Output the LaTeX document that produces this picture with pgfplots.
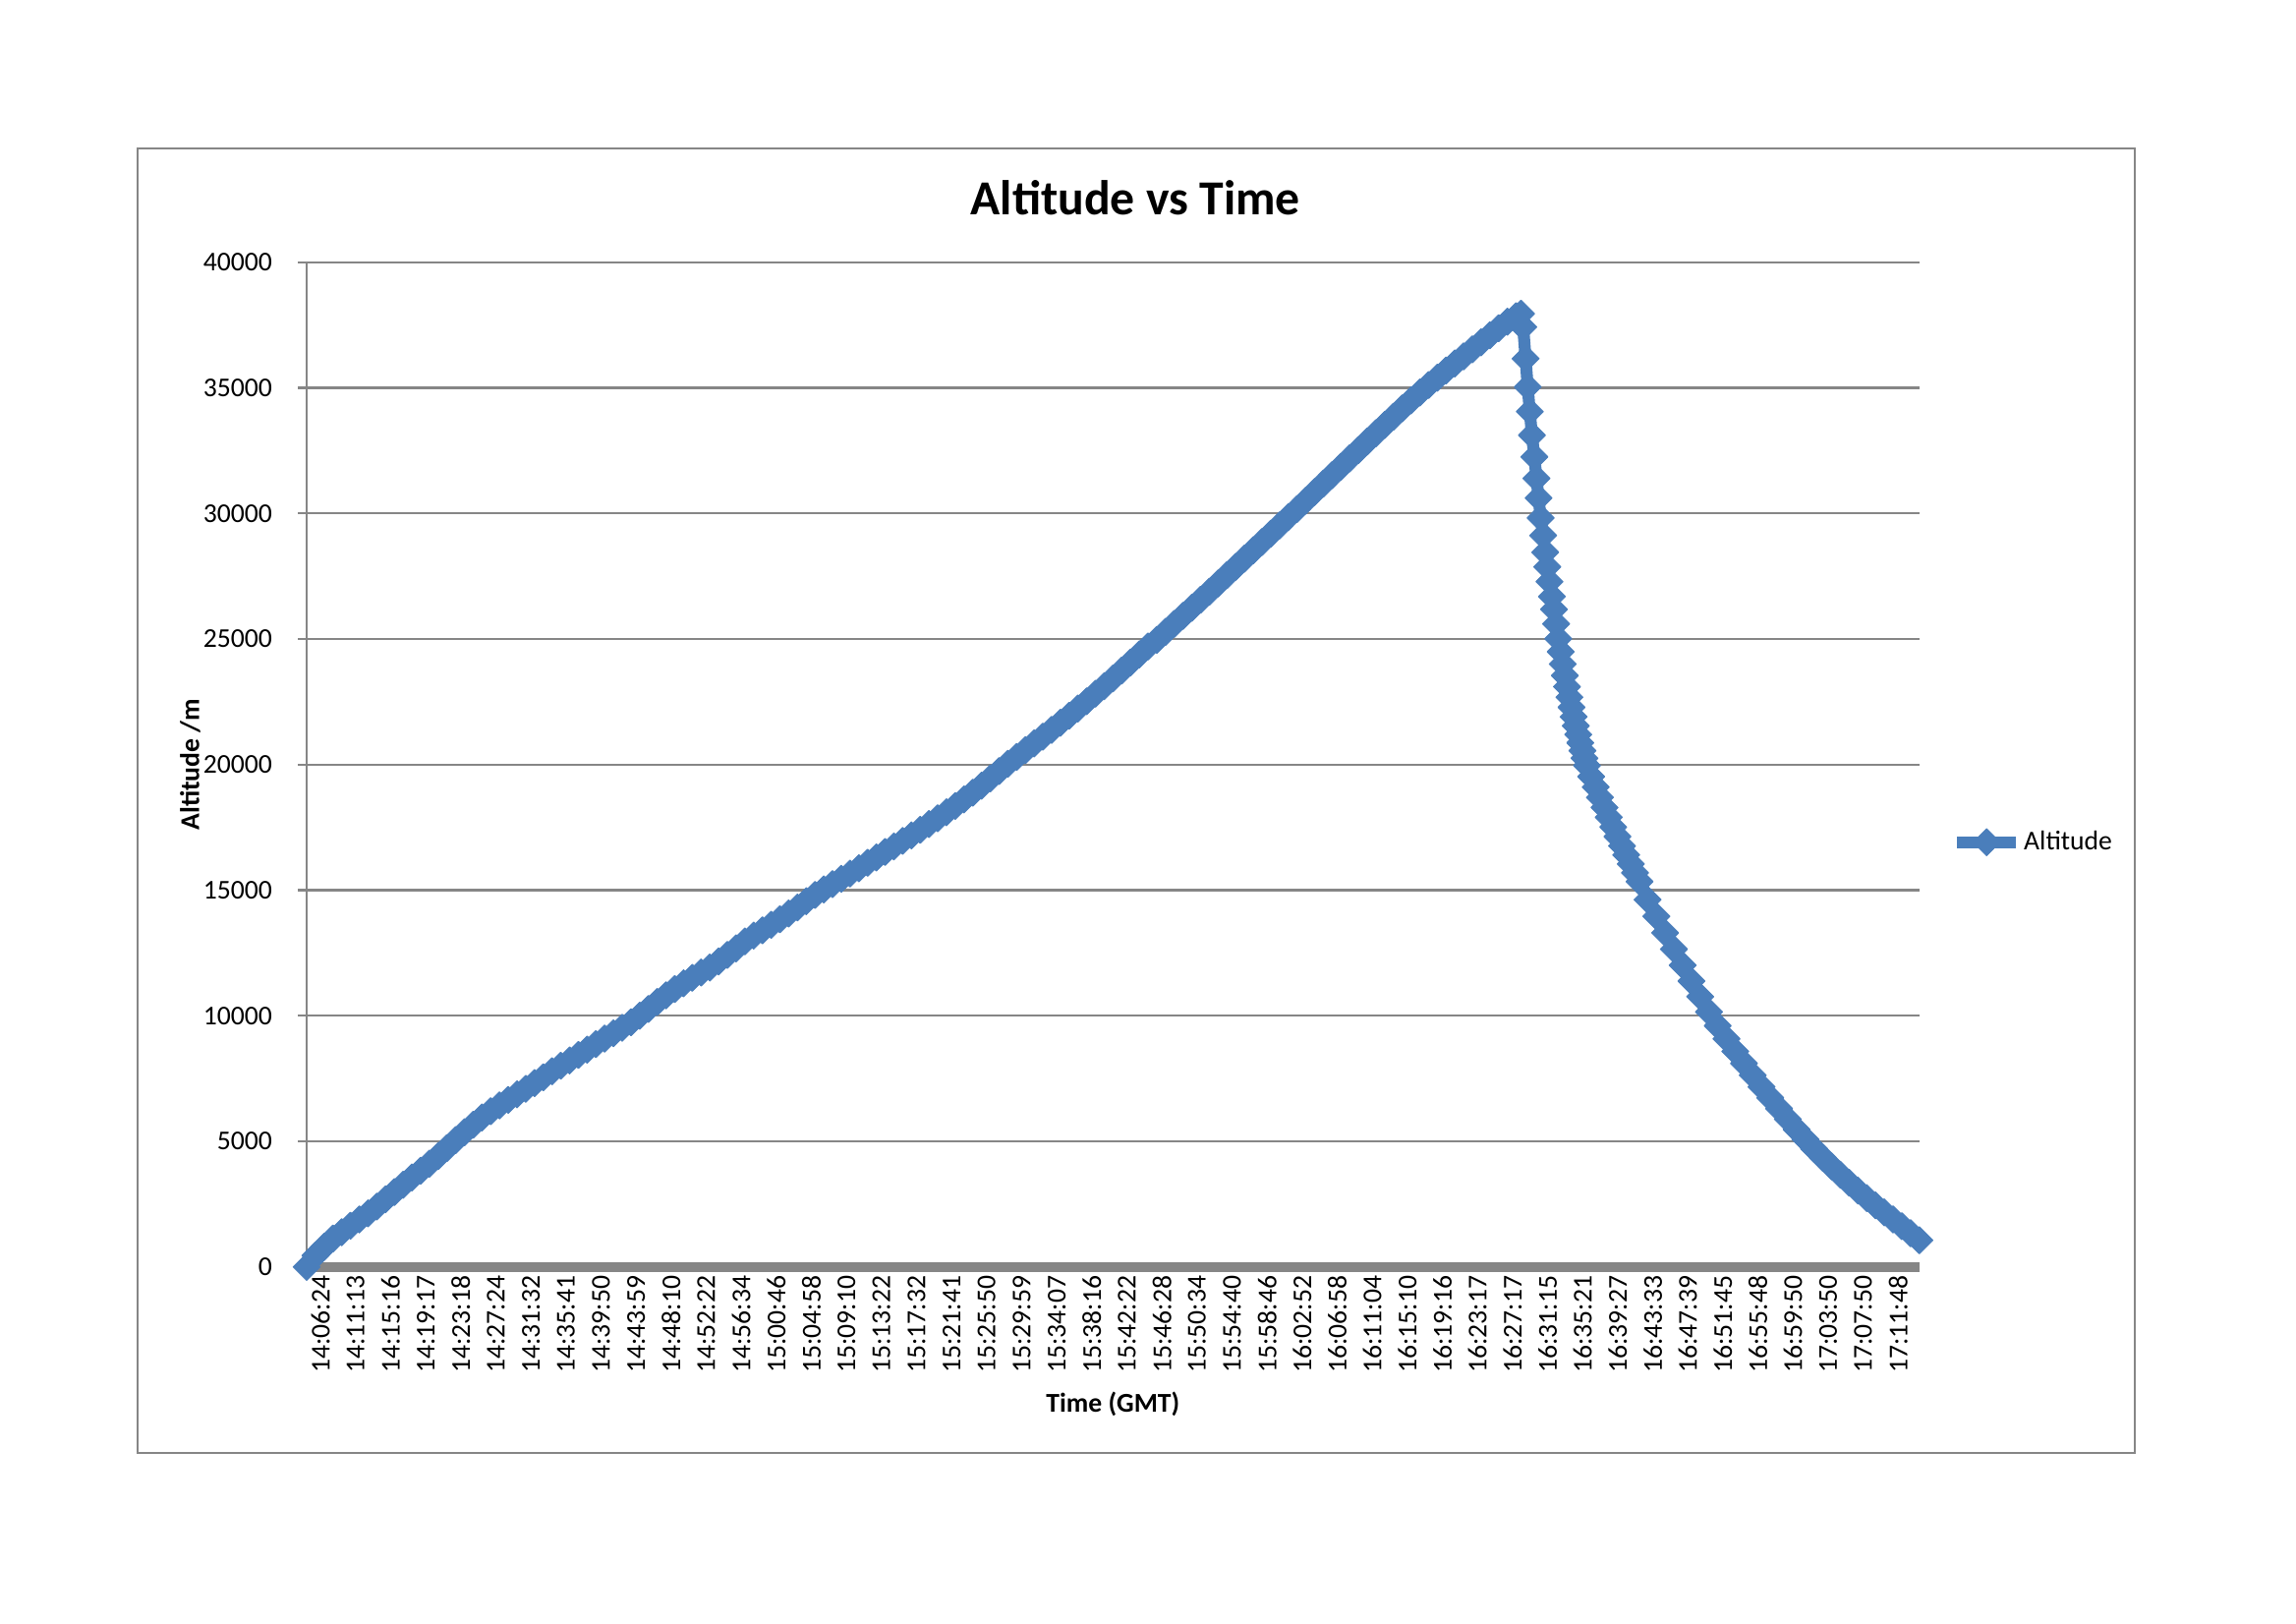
\documentclass[border=0pt]{standalone}
\usepackage{fontspec}
\setmainfont{Carlito}
\usepackage{pgfplots}
\pgfplotsset{compat=1.18}
\usepackage{pgfplotstable}

\definecolor{excelblue}{HTML}{4A7EBB}
\definecolor{excelgray}{HTML}{868686}

% balloon flight: x is the position along the category axis (one unit per labelled time)
\pgfplotstableread{
t alt
0 0
0.25 450
0.5 800
0.75 1130
1 1380
1.25 1640
1.5 1890
1.75 2130
2 2400
2.25 2690
2.5 2980
2.75 3270
3 3560
3.25 3830
3.5 4110
3.75 4410
4 4730
4.25 5050
4.5 5360
4.75 5660
5 5950
5.25 6200
5.5 6430
5.75 6650
6 6870
6.25 7090
6.5 7320
6.75 7550
7 7790
7.25 8010
7.5 8220
7.75 8440
8 8650
8.25 8870
8.5 9090
8.75 9300
9 9520
9.25 9740
9.5 10000
9.75 10270
10 10550
10.25 10810
10.5 11060
10.75 11290
11 11510
11.25 11720
11.5 11920
11.75 12160
12 12420
12.25 12680
12.5 12960
12.75 13190
13 13400
13.25 13620
13.5 13840
13.75 14070
14 14310
14.25 14560
14.5 14810
14.75 15030
15 15240
15.25 15450
15.5 15660
15.75 15870
16 16090
16.25 16300
16.5 16520
16.75 16740
17 16960
17.25 17180
17.5 17400
17.75 17630
18 17860
18.25 18100
18.5 18350
18.75 18610
19 18880
19.25 19160
19.5 19450
19.75 19740
20 20030
20.25 20300
20.5 20570
20.75 20840
21 21110
21.25 21380
21.5 21660
21.75 21940
22 22230
22.25 22520
22.5 22820
22.75 23120
23 23430
23.25 23740
23.5 24060
23.75 24380
24 24700
24.25 24960
24.5 25280
24.75 25600
25 25920
25.25 26240
25.5 26560
25.75 26880
26 27210
26.25 27540
26.5 27870
26.75 28200
27 28530
27.25 28860
27.5 29190
27.75 29520
28 29850
28.25 30170
28.5 30510
28.75 30850
29 31180
29.25 31520
29.5 31850
29.75 32190
30 32520
30.25 32860
30.5 33190
30.75 33520
31 33850
31.25 34180
31.5 34500
31.75 34810
32 35110
32.25 35400
32.5 35690
32.75 35970
33 36250
33.25 36530
33.5 36810
33.75 37090
34 37370
34.25 37630
34.5 37850
34.64 37950
34.70 37420
34.77 36160
34.83 35030
34.89 34050
34.95 33110
35.02 32250
35.08 31390
35.14 30610
35.20 29820
35.27 29120
35.33 28450
35.39 27870
35.45 27280
35.52 26690
35.58 26180
35.64 25600
35.70 25010
35.77 24490
35.83 24000
35.89 23540
35.95 23100
36.02 22680
36.08 22280
36.14 21900
36.20 21540
36.27 21195
36.33 20865
36.39 20550
36.45 20250
36.52 19960
36.64 19520
36.77 19100
36.89 18690
37.02 18290
37.14 17900
37.27 17510
37.39 17130
37.52 16760
37.64 16400
37.77 16040
37.89 15690
38.02 15340
38.25 14620
38.5 13960
38.75 13300
39 12650
39.25 12010
39.5 11380
39.75 10760
40 10150
40.25 9600
40.5 9080
40.75 8580
41 8100
41.25 7630
41.5 7170
41.75 6730
42 6300
42.25 5880
42.5 5470
42.75 5080
43 4700
43.25 4340
43.5 4000
43.75 3670
44 3350
44.25 3040
44.5 2740
44.75 2450
45 2170
45.25 1890
45.5 1620
45.75 1340
46 1060
}\altitudedata

\begin{document}
\begin{tikzpicture}
\path[use as bounding box] (0,0) rectangle (297mm,210mm);
\fill[white] (0,0) rectangle (297mm,210mm);
\draw[excelgray, line width=0.75pt] (17.8mm,22.12mm) rectangle (276.15mm,190.84mm);

\begin{axis}[
    at={(39.67mm,46.15mm)},
    anchor=south west,
    scale only axis,
    width=208.6mm,
    height=129.94mm,
    clip=false,
    xmin=0, xmax=46,
    ymin=0, ymax=40000,
    axis x line=bottom,
    axis y line=left,
    axis line style={-},
    x axis line style={excelgray, line width=3.6pt},
    y axis line style={excelgray, line width=0.75pt},
    xtick={0,...,45},
    xticklabels={14:06:24,14:11:13,14:15:16,14:19:17,14:23:18,14:27:24,14:31:32,14:35:41,14:39:50,14:43:59,14:48:10,14:52:22,14:56:34,15:00:46,15:04:58,15:09:10,15:13:22,15:17:32,15:21:41,15:25:50,15:29:59,15:34:07,15:38:16,15:42:22,15:46:28,15:50:34,15:54:40,15:58:46,16:02:52,16:06:58,16:11:04,16:15:10,16:19:16,16:23:17,16:27:17,16:31:15,16:35:21,16:39:27,16:43:33,16:47:39,16:51:45,16:55:48,16:59:50,17:03:50,17:07:50,17:11:48},
    xtick style={draw=none},
    ytick={0,5000,...,40000},
    ytick style={excelgray, line width=0.75pt},
    tick align=outside,
    major tick length=1.1mm,
    scaled y ticks=false,
    /pgf/number format/assume math mode=true,
    /pgf/number format/1000 sep={},
    ymajorgrids,
    grid style={excelgray, line width=0.75pt},
    xticklabel style={font=\fontsize{10}{12}\selectfont, rotate=90, anchor=east, inner sep=0pt, yshift=-1.8mm},
    yticklabel style={font=\fontsize{10}{12}\selectfont, anchor=east, inner sep=0pt, xshift=-3.3mm},
    xlabel={Time (GMT)},
    ylabel={Altitude /m},
    every axis x label/.style={at={(axis description cs:0.5,-0.14476)}, anchor=base, font=\bfseries\fontsize{10}{12}\selectfont},
    every axis y label/.style={at={(axis description cs:-0.0666,0.5)}, rotate=90, anchor=base, font=\bfseries\fontsize{10}{12}\selectfont},
    title={Altitude vs Time},
    every axis title/.style={at={(axis description cs:0.514,1.0468)}, anchor=base, font=\bfseries\fontsize{18}{22}\selectfont},
    legend style={at={(axis description cs:1.0195,0.4227)}, anchor=west, draw=none, fill=none, inner sep=0pt,
        nodes={inner sep=0pt}, column sep=0.25mm,
        font=\fontsize{10}{12}\selectfont, legend cell align=left},
    legend image code/.code={
        \draw[mark repeat=2, mark phase=2, line cap=butt] plot coordinates {(0mm,0mm) (3.8mm,0mm) (7.6mm,0mm)};
    },
]
\addplot[excelblue, line width=4.4pt, line join=round, line cap=round,
    mark=square*, mark size=3.5pt,
    mark options={rotate=45, solid, fill=excelblue, draw=excelblue, line width=0.4pt}]
    table[x=t, y=alt] {\altitudedata};
\addlegendentry{Altitude}
\end{axis}
\end{tikzpicture}
\end{document}
